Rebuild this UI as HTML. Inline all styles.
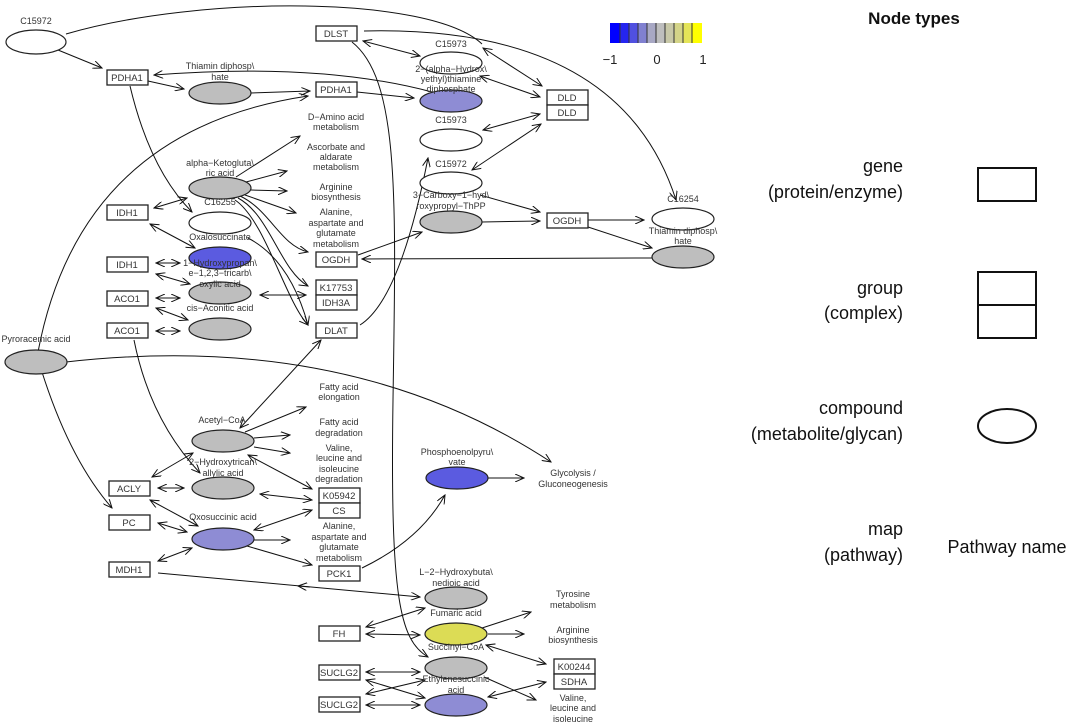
<!DOCTYPE html>
<html><head><meta charset="utf-8"><style>
html,body{margin:0;padding:0;background:#fff;}
svg{display:block;font-family:"Liberation Sans",Arial,sans-serif;}
.l{font-size:9px;fill:#333;text-anchor:middle;}
.b{font-size:9.5px;fill:#333;text-anchor:middle;}
.e{fill:none;stroke:#111;stroke-width:1;}
.bx{fill:#fff;stroke:#222;stroke-width:1.3;}
.el{stroke:#222;stroke-width:1.2;}
.g{font-size:18px;fill:#111;text-anchor:end;}
</style></head><body>
<svg width="1080" height="725" viewBox="0 0 1080 725" xmlns="http://www.w3.org/2000/svg">
<defs>
<marker id="a" markerWidth="10" markerHeight="8" refX="9" refY="4" orient="auto-start-reverse" markerUnits="userSpaceOnUse"><path d="M0,0 L9,4 L0,8" fill="none" stroke="#111" stroke-width="1"/></marker>
</defs>

<!-- edges -->
<g class="e">
<path d="M66,34 C200,-5 430,-5 482,44"/>
<path d="M483,48 L542,86" marker-start="url(#a)" marker-end="url(#a)"/>
<path d="M58,50 L102,68" marker-end="url(#a)"/>
<path d="M148,81 L184,89" marker-end="url(#a)"/>
<path d="M250,93 L310,91" marker-end="url(#a)"/>
<path d="M357,92 L414,98" marker-end="url(#a)"/>
<path d="M432,92 Q320,62 154,75" marker-end="url(#a)"/>
<path d="M130,86 Q150,170 192,212" marker-end="url(#a)"/>
<path d="M38,352 Q80,130 308,96" marker-end="url(#a)"/>
<path d="M364,31 Q620,25 676,200" marker-end="url(#a)"/>
<path d="M363,41 L420,56" marker-start="url(#a)" marker-end="url(#a)"/>
<path d="M352,42 C400,80 396,200 393,400 C390,600 400,640 428,657" marker-end="url(#a)"/>
<path d="M360,325 Q400,300 428,158" marker-end="url(#a)"/>
<path d="M480,76 L540,97" marker-start="url(#a)" marker-end="url(#a)"/>
<path d="M483,130 L540,114" marker-start="url(#a)" marker-end="url(#a)"/>
<path d="M472,170 L541,124" marker-start="url(#a)" marker-end="url(#a)"/>
<path d="M480,195 L540,212" marker-end="url(#a)"/>
<path d="M482,222 L540,221" marker-end="url(#a)"/>
<path d="M588,220 L644,220" marker-end="url(#a)"/>
<path d="M588,227 L652,248" marker-end="url(#a)"/>
<path d="M652,258 L362,259" marker-end="url(#a)"/>
<path d="M358,255 L422,232" marker-end="url(#a)"/>
<path d="M236,177 L300,136" marker-end="url(#a)"/>
<path d="M246,182 L287,171" marker-end="url(#a)"/>
<path d="M251,190 L287,191" marker-end="url(#a)"/>
<path d="M245,195 L296,213" marker-end="url(#a)"/>
<path d="M240,196 C270,210 280,245 308,252" marker-end="url(#a)"/>
<path d="M238,198 C270,215 280,270 308,286" marker-end="url(#a)"/>
<path d="M235,200 C265,220 285,300 308,325" marker-end="url(#a)"/>
<path d="M154,208 L187,198" marker-start="url(#a)" marker-end="url(#a)"/>
<path d="M150,224 L195,248" marker-start="url(#a)" marker-end="url(#a)"/>
<path d="M156,263 L180,263" marker-start="url(#a)" marker-end="url(#a)"/>
<path d="M156,274 L190,284" marker-start="url(#a)" marker-end="url(#a)"/>
<path d="M156,298 L180,298" marker-start="url(#a)" marker-end="url(#a)"/>
<path d="M156,308 L188,320" marker-start="url(#a)" marker-end="url(#a)"/>
<path d="M156,331 L180,331" marker-start="url(#a)" marker-end="url(#a)"/>
<path d="M260,295 L306,295" marker-start="url(#a)" marker-end="url(#a)"/>
<path d="M248,238 Q290,260 308,325" marker-end="url(#a)"/>
<path d="M66,362 Q350,330 551,462" marker-end="url(#a)"/>
<path d="M42,372 Q70,460 112,508" marker-end="url(#a)"/>
<path d="M134,340 Q150,420 200,473" marker-end="url(#a)"/>
<path d="M240,428 L321,340" marker-start="url(#a)" marker-end="url(#a)"/>
<path d="M245,432 L306,407" marker-end="url(#a)"/>
<path d="M254,438 L290,435" marker-end="url(#a)"/>
<path d="M254,447 L290,453" marker-end="url(#a)"/>
<path d="M248,455 L312,489" marker-start="url(#a)" marker-end="url(#a)"/>
<path d="M193,453 L152,477" marker-start="url(#a)" marker-end="url(#a)"/>
<path d="M158,488 L184,488" marker-start="url(#a)" marker-end="url(#a)"/>
<path d="M150,500 L198,526" marker-start="url(#a)" marker-end="url(#a)"/>
<path d="M260,494 L312,500" marker-start="url(#a)" marker-end="url(#a)"/>
<path d="M158,523 L187,532" marker-start="url(#a)" marker-end="url(#a)"/>
<path d="M254,530 L312,510" marker-start="url(#a)" marker-end="url(#a)"/>
<path d="M254,540 L290,540" marker-end="url(#a)"/>
<path d="M247,546 L312,565" marker-end="url(#a)"/>
<path d="M158,561 L192,548" marker-start="url(#a)" marker-end="url(#a)"/>
<path d="M362,568 Q420,540 445,495" marker-end="url(#a)"/>
<path d="M488,478 L524,478" marker-end="url(#a)"/>
<path d="M158,573 L420,597" marker-end="url(#a)"/>
<path d="M310,587 L298,586" marker-end="url(#a)"/>
<path d="M366,627 L425,608" marker-start="url(#a)" marker-end="url(#a)"/>
<path d="M366,634 L420,635" marker-start="url(#a)" marker-end="url(#a)"/>
<path d="M482,628 L531,612" marker-end="url(#a)"/>
<path d="M488,634 L524,634" marker-end="url(#a)"/>
<path d="M486,645 L546,664" marker-start="url(#a)" marker-end="url(#a)"/>
<path d="M366,672 L420,672" marker-start="url(#a)" marker-end="url(#a)"/>
<path d="M366,680 L425,698" marker-start="url(#a)" marker-end="url(#a)"/>
<path d="M366,694 L425,680" marker-start="url(#a)" marker-end="url(#a)"/>
<path d="M366,705 L420,705" marker-start="url(#a)" marker-end="url(#a)"/>
<path d="M484,677 L536,700" marker-end="url(#a)"/>
<path d="M488,697 L546,682" marker-start="url(#a)" marker-end="url(#a)"/>
</g>

<!-- ellipses -->
<g class="el">
<ellipse cx="36" cy="42" rx="30" ry="12" fill="#fff"/>
<ellipse cx="220" cy="93" rx="31" ry="11" fill="#bebebe"/>
<ellipse cx="451" cy="63" rx="31" ry="11" fill="#fff"/>
<ellipse cx="451" cy="101" rx="31" ry="11" fill="#8e8cd4"/>
<ellipse cx="451" cy="140" rx="31" ry="11" fill="#fff"/>
<ellipse cx="451" cy="183" rx="31" ry="11" fill="#fff"/>
<ellipse cx="451" cy="222" rx="31" ry="11" fill="#bebebe"/>
<ellipse cx="683" cy="219" rx="31" ry="11" fill="#fff"/>
<ellipse cx="683" cy="257" rx="31" ry="11" fill="#bebebe"/>
<ellipse cx="220" cy="188" rx="31" ry="11" fill="#bebebe"/>
<ellipse cx="220" cy="223" rx="31" ry="11" fill="#fff"/>
<ellipse cx="220" cy="258" rx="31" ry="11" fill="#5b5be0"/>
<ellipse cx="220" cy="293" rx="31" ry="11" fill="#bebebe"/>
<ellipse cx="220" cy="329" rx="31" ry="11" fill="#bebebe"/>
<ellipse cx="36" cy="362" rx="31" ry="12" fill="#bebebe"/>
<ellipse cx="223" cy="441" rx="31" ry="11" fill="#bebebe"/>
<ellipse cx="223" cy="488" rx="31" ry="11" fill="#bebebe"/>
<ellipse cx="223" cy="539" rx="31" ry="11" fill="#8e8cd4"/>
<ellipse cx="457" cy="478" rx="31" ry="11" fill="#5b5be0"/>
<ellipse cx="456" cy="598" rx="31" ry="11" fill="#bebebe"/>
<ellipse cx="456" cy="634" rx="31" ry="11" fill="#dcdc55"/>
<ellipse cx="456" cy="668" rx="31" ry="11" fill="#bebebe"/>
<ellipse cx="456" cy="705" rx="31" ry="11" fill="#8e8cd4"/>
</g>

<!-- boxes -->
<g class="bx">
<rect x="107" y="70" width="41" height="15"/>
<rect x="316" y="82" width="41" height="15"/>
<rect x="316" y="26" width="41" height="15"/>
<rect x="547" y="90" width="41" height="15"/><rect x="547" y="105" width="41" height="15"/>
<rect x="547" y="213" width="41" height="15"/>
<rect x="316" y="252" width="41" height="15"/>
<rect x="316" y="280" width="41" height="15"/><rect x="316" y="295" width="41" height="15"/>
<rect x="316" y="323" width="41" height="15"/>
<rect x="107" y="205" width="41" height="15"/>
<rect x="107" y="257" width="41" height="15"/>
<rect x="107" y="291" width="41" height="15"/>
<rect x="107" y="323" width="41" height="15"/>
<rect x="109" y="481" width="41" height="15"/>
<rect x="109" y="515" width="41" height="15"/>
<rect x="109" y="562" width="41" height="15"/>
<rect x="319" y="488" width="41" height="15"/><rect x="319" y="503" width="41" height="15"/>
<rect x="319" y="566" width="41" height="15"/>
<rect x="319" y="626" width="41" height="15"/>
<rect x="319" y="665" width="41" height="15"/>
<rect x="319" y="697" width="41" height="15"/>
<rect x="554" y="659" width="41" height="15"/><rect x="554" y="674" width="41" height="15"/>
</g>

<!-- box labels -->
<g class="b">
<text x="127" y="81">PDHA1</text>
<text x="336" y="93">PDHA1</text>
<text x="336" y="37">DLST</text>
<text x="567" y="101">DLD</text><text x="567" y="116">DLD</text>
<text x="567" y="224">OGDH</text>
<text x="336" y="263">OGDH</text>
<text x="336" y="291">K17753</text><text x="336" y="306">IDH3A</text>
<text x="336" y="334">DLAT</text>
<text x="127" y="216">IDH1</text>
<text x="127" y="268">IDH1</text>
<text x="127" y="302">ACO1</text>
<text x="127" y="334">ACO1</text>
<text x="129" y="492">ACLY</text>
<text x="129" y="526">PC</text>
<text x="129" y="573">MDH1</text>
<text x="339" y="499">K05942</text><text x="339" y="514">CS</text>
<text x="339" y="577">PCK1</text>
<text x="339" y="637">FH</text>
<text x="339" y="676">SUCLG2</text>
<text x="339" y="708">SUCLG2</text>
<text x="574" y="670">K00244</text><text x="574" y="685">SDHA</text>
</g>

<!-- compound & map labels -->
<g class="l">
<text x="36" y="24">C15972</text>
<text x="220" y="69">Thiamin diphosp\</text><text x="220" y="80">hate</text>
<text x="451" y="47">C15973</text>
<text x="451" y="72">2−(alpha−Hydrox\</text><text x="451" y="82">yethyl)thiamine</text><text x="451" y="92">diphosphate</text>
<text x="451" y="123">C15973</text>
<text x="451" y="167">C15972</text>
<text x="451" y="198">3−Carboxy−1−hyd\</text><text x="451" y="209">roxypropyl−ThPP</text>
<text x="683" y="202">C16254</text>
<text x="683" y="234">Thiamin diphosp\</text><text x="683" y="244">hate</text>
<text x="336" y="120">D−Amino acid</text><text x="336" y="130">metabolism</text>
<text x="336" y="150">Ascorbate and</text><text x="336" y="160">aldarate</text><text x="336" y="170">metabolism</text>
<text x="336" y="190">Arginine</text><text x="336" y="200">biosynthesis</text>
<text x="336" y="215">Alanine,</text><text x="336" y="226">aspartate and</text><text x="336" y="236">glutamate</text><text x="336" y="247">metabolism</text>
<text x="220" y="166">alpha−Ketogluta\</text><text x="220" y="176">ric acid</text>
<text x="220" y="205">C16255</text>
<text x="220" y="240">Oxalosuccinate</text>
<text x="220" y="266">1−Hydroxypropan\</text><text x="220" y="276">e−1,2,3−tricarb\</text><text x="220" y="287">oxylic acid</text>
<text x="220" y="311">cis−Aconitic acid</text>
<text x="36" y="342">Pyroracemic acid</text>
<text x="222" y="423">Acetyl−CoA</text>
<text x="339" y="390">Fatty acid</text><text x="339" y="400">elongation</text>
<text x="339" y="425">Fatty acid</text><text x="339" y="436">degradation</text>
<text x="339" y="451">Valine,</text><text x="339" y="461">leucine and</text><text x="339" y="472">isoleucine</text><text x="339" y="482">degradation</text>
<text x="223" y="465">2−Hydroxytrican\</text><text x="223" y="476">allylic acid</text>
<text x="223" y="520">Oxosuccinic acid</text>
<text x="339" y="529">Alanine,</text><text x="339" y="540">aspartate and</text><text x="339" y="550">glutamate</text><text x="339" y="561">metabolism</text>
<text x="457" y="455">Phosphoenolpyru\</text><text x="457" y="465">vate</text>
<text x="573" y="476">Glycolysis /</text><text x="573" y="487">Gluconeogenesis</text>
<text x="456" y="575">L−2−Hydroxybuta\</text><text x="456" y="586">nedioic acid</text>
<text x="573" y="597">Tyrosine</text><text x="573" y="608">metabolism</text>
<text x="456" y="616">Fumaric acid</text>
<text x="573" y="633">Arginine</text><text x="573" y="643">biosynthesis</text>
<text x="456" y="650">Succinyl−CoA</text>
<text x="456" y="682">Ethylenesuccinic</text><text x="456" y="693">acid</text>
<text x="573" y="701">Valine,</text><text x="573" y="711">leucine and</text><text x="573" y="722">isoleucine</text>
</g>

<!-- color bar -->
<g>
<rect x="610" y="23" width="10" height="20" fill="#0000ff"/>
<rect x="620" y="23" width="9" height="20" fill="#2525f0"/>
<rect x="629" y="23" width="9" height="20" fill="#5050e0"/>
<rect x="638" y="23" width="9" height="20" fill="#8080d0"/>
<rect x="647" y="23" width="9" height="20" fill="#a8a8c4"/>
<rect x="656" y="23" width="9" height="20" fill="#bebebe"/>
<rect x="665" y="23" width="9" height="20" fill="#c8c8a8"/>
<rect x="674" y="23" width="9" height="20" fill="#d4d488"/>
<rect x="683" y="23" width="9" height="20" fill="#e4e458"/>
<rect x="692" y="23" width="10" height="20" fill="#ffff00"/>
<g stroke="#333" stroke-width="1">
<line x1="620" y1="23" x2="620" y2="43"/><line x1="629" y1="23" x2="629" y2="43"/><line x1="638" y1="23" x2="638" y2="43"/><line x1="647" y1="23" x2="647" y2="43"/><line x1="656" y1="23" x2="656" y2="43"/><line x1="665" y1="23" x2="665" y2="43"/><line x1="674" y1="23" x2="674" y2="43"/><line x1="683" y1="23" x2="683" y2="43"/><line x1="692" y1="23" x2="692" y2="43"/>
</g>
<text x="610" y="64" font-size="13" text-anchor="middle" fill="#222">−1</text>
<text x="657" y="64" font-size="13" text-anchor="middle" fill="#222">0</text>
<text x="703" y="64" font-size="13" text-anchor="middle" fill="#222">1</text>
</g>

<!-- legend -->
<text x="914" y="24" font-size="17" font-weight="bold" text-anchor="middle" fill="#111">Node types</text>
<text class="g" x="903" y="172">gene</text>
<text class="g" x="903" y="198">(protein/enzyme)</text>
<rect x="978" y="168" width="58" height="33" fill="#fff" stroke="#111" stroke-width="2"/>
<text class="g" x="903" y="294">group</text>
<text class="g" x="903" y="319">(complex)</text>
<rect x="978" y="272" width="58" height="66" fill="#fff" stroke="#111" stroke-width="2"/>
<line x1="978" y1="305" x2="1036" y2="305" stroke="#111" stroke-width="2"/>
<text class="g" x="903" y="414">compound</text>
<text class="g" x="903" y="440">(metabolite/glycan)</text>
<ellipse cx="1007" cy="426" rx="29" ry="17" fill="#fff" stroke="#111" stroke-width="2"/>
<text class="g" x="903" y="535">map</text>
<text class="g" x="903" y="561">(pathway)</text>
<text x="1007" y="553" font-size="18" text-anchor="middle" fill="#111">Pathway name</text>
</svg>
</body></html>
